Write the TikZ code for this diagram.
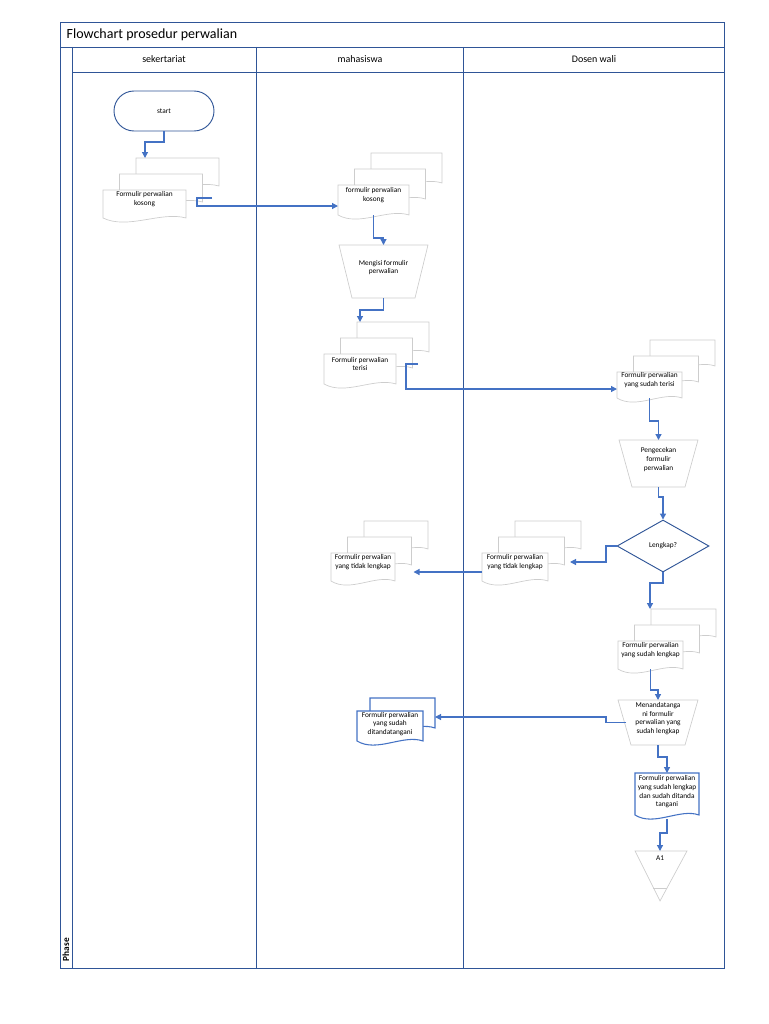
\documentclass[tikz,border=0pt]{standalone}
\usepackage{fontspec}
\setmainfont{Carlito}
\usetikzlibrary{calc}
\usetikzlibrary{positioning}
\usetikzlibrary{shapes.geometric}
\usetikzlibrary{arrows.meta}
\definecolor{laneblue}{RGB}{47,85,151}
\definecolor{flowblue}{RGB}{68,114,196}
\definecolor{pagegray}{RGB}{205,205,205}
\tikzset{x=0.75pt, y=-0.75pt}
\tikzstyle{lane} = [draw=laneblue, line width=0.6pt]
\tikzstyle{flow} = [draw=flowblue, line width=0.9pt, -{Triangle[length=4.5pt,width=4.5pt]}]
\tikzstyle{page} = [draw=pagegray, fill=white, line width=0.5pt]
\tikzstyle{bluepage} = [draw=flowblue, fill=white, line width=0.8pt]
\tikzstyle{box} = [draw=none, inner sep=0pt, outer sep=0pt]
\tikzstyle{doctext} = [font=\fontsize{5.5}{6.5}\selectfont, align=center, inner sep=0pt]
\tikzstyle{header} = [font=\fontsize{7.5}{9}\selectfont]
% one page with a wavy bottom: style, name, cx, cy, w, h
\newcommand{\docpage}[6][page]{%
  \node[box, minimum width=#5*0.75pt, minimum height=#6*0.75pt] (#2) at (#3,#4) {};
  \draw[#1] (#2.north west) -- (#2.north east) -- (#2.south east)
    .. controls ($(#2.south west)!0.7!(#2.south east)+(0,-7)$) and ($(#2.south west)!0.3!(#2.south east)+(0,12)$) .. (#2.south west) -- cycle;}
% three stacked pages: name, cx, cy, w, h, text
\newcommand{\multidoc}[6]{%
  \docpage{#1-b}{#2+33}{#3-32}{#4}{#5}
  \docpage{#1-m}{#2+16.5}{#3-16}{#4}{#5}
  \docpage{#1}{#2}{#3}{#4}{#5}
  \node[doctext] (#1-t) at ($(#1)+(0,-5)$) {#6};}
% manual operation: name, cx, cy, w, h, inset, text
\newcommand{\manop}[7]{%
  \node[box, minimum width=#4*0.75pt, minimum height=#5*0.75pt] (#1) at (#2,#3) {};
  \draw[page] (#1.north west) -- (#1.north east) -- ($(#1.south east)+(-#6,0)$) -- ($(#1.south west)+(#6,0)$) -- cycle;
  \node[doctext] (#1-t) at ($(#1)+(0,-4)$) {#7};}

\begin{document}
\begin{tikzpicture}
\useasboundingbox (0,0) rectangle (768,1024);
% frame and lanes
\draw[lane] (60,22) rectangle (724,968);
\draw[lane] (60,47) -- (724,47);
\draw[lane] (72,72) -- (724,72);
\draw[lane] (72,47) -- (72,968);
\draw[lane] (256,47) -- (256,968);
\draw[lane] (463,47) -- (463,968);
\node[anchor=west, font=\fontsize{10.5}{12}\selectfont] (title) at (62,34.5) {Flowchart prosedur perwalian};
\node[header] (h_sek) at (164,59.5) {sekertariat};
\node[header] (h_mhs) at (360,59.5) {mahasiswa};
\node[header] (h_dsn) at (594,59.5) {Dosen wali};
\node[rotate=90, anchor=west, font=\bfseries\fontsize{7}{8}\selectfont] (phase) at (66,966) {Phase};

% shapes
\node[draw=laneblue, line width=0.7pt, rounded corners=15pt, minimum width=75pt, minimum height=30pt, doctext] (start) at (164,111) {start};
\multidoc{d1}{144.5}{204}{83}{28}{Formulir perwalian\\kosong}
\multidoc{d2}{373.5}{200}{71}{30}{formulir perwalian\\kosong}
\manop{p1}{383.5}{271.5}{89}{53}{13}{Mengisi formulir\\perwalian}
\multidoc{d3}{360}{369}{72}{30}{Formulir perwalian\\terisi}
\multidoc{d4}{649.5}{385}{65}{26}{Formulir perwalian\\yang sudah terisi}
\manop{p2}{658.5}{463.5}{79}{47}{13}{Pengecekan\\formulir\\perwalian}
\node[draw=laneblue, line width=0.7pt, diamond, aspect=1.77, minimum width=69pt, minimum height=39pt, inner sep=0pt, doctext] (dia) at (663,546) {Lengkap?};
\multidoc{d5}{515}{567}{66}{28}{Formulir perwalian\\yang tidak lengkap}
\multidoc{d6}{363}{567}{64}{28}{Formulir perwalian\\yang tidak lengkap}
\multidoc{d7}{650.5}{655}{65}{28}{Formulir perwalian\\yang sudah lengkap}
\manop{p3}{658}{722.5}{80}{45}{13}{Menandatanga\\ni formulir\\perwalian yang\\sudah lengkap}
\docpage[bluepage]{d8-b}{402.5}{713}{65}{30}
\docpage[bluepage]{d8}{390}{726}{66}{30}
\node[doctext] (d8-t) at ($(d8)+(0,-2)$) {Formulir perwalian\\yang sudah\\ditandatangani};
\docpage[bluepage]{d9}{667}{794}{64}{42}
\node[doctext] (d9-t) at ($(d9)+(0,-2)$) {Formulir perwalian\\yang sudah lengkap\\dan sudah ditanda\\tangani};
\coordinate (a1) at (660,851);
\draw[page] (635,851) -- (687,851) -- (660,901) -- cycle;
\draw[draw=pagegray, line width=0.4pt] (653,888) -- (667,888);
\node[doctext] (a1-t) at (660,858) {A1};

% connectors
\coordinate (k1) at (145,142);
\draw[flow] (start.south) |- (k1) -- (k1 |- d1-b.north);
\coordinate (k2a) at (212,198);
\coordinate (k2b) at (197,198);
\draw[flow] (k2a) -- (k2b) |- ($(d2.west)+(0,6)$);
\coordinate (k3) at (373.5,238);
\draw[flow] (d2.south) -- (k3) -| (p1.north);
\coordinate (k4) at (360,310);
\draw[flow] (p1.south) |- (k4) -- (k4 |- d3-b.north);
\coordinate (k5a) at (418,364);
\coordinate (k5b) at (406,364);
\draw[flow] (k5a) -- (k5b) |- ($(d4.west)+(0,4)$);
\coordinate (k6) at (649.5,421);
\draw[flow] (d4.south) -- (k6) -| (p2.north);
\coordinate (k7) at (658.5,497);
\draw[flow] (p2.south) -- (k7) -| (dia.north);
\coordinate (k8) at (606,546);
\coordinate (k8b) at (570,562);
\draw[flow] (dia.west) -- (k8) |- (k8b);
\draw[flow] ($(d5.west)+(0,5)$) -- ($(d5.west -| d6-m.east)+(2,5)$);
\coordinate (k10) at (663,583);
\coordinate (k10b) at (650,583);
\draw[flow] (dia.south) -- (k10) -- (k10b) -- (k10b |- d7-b.north);
\coordinate (k11) at (650.5,690);
\draw[flow] (d7.south) -- (k11) -| (p3.north);
\coordinate (k12) at (606,717);
\draw[flow] ($(p3.west)+(8,0)$) -| (k12) -- (k12 -| d8-b.east);
\coordinate (k13) at (658,757);
\draw[flow] (p3.south) -- (k13) -| (d9.north);
\coordinate (k14) at (667,833);
\draw[flow] ($(d9.south)+(0,4)$) -- (k14) -| (a1);
\end{tikzpicture}
\end{document}
